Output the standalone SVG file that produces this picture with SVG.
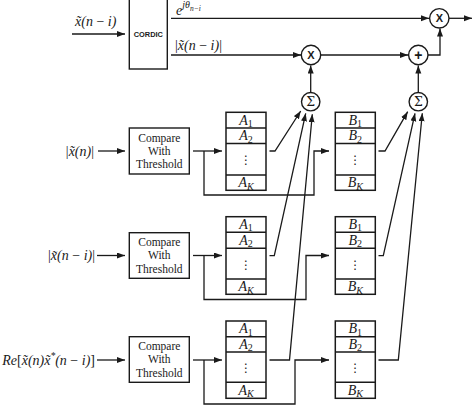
<svg xmlns="http://www.w3.org/2000/svg" width="474" height="405" viewBox="0 0 474 405">
<defs>
<marker id="ah" markerUnits="userSpaceOnUse" markerWidth="9" markerHeight="7" refX="8" refY="3" orient="auto">
<path d="M0,0 L8,3 L0,6 z" fill="#1a1a1a"/>
</marker>
<style>
.box{fill:#fff;stroke:#1a1a1a;stroke-width:1.4}
.reg{fill:#fff;stroke:#1a1a1a;stroke-width:1.5}
.arr{fill:none;stroke:#1a1a1a;stroke-width:1.3;marker-end:url(#ah)}
.m{font-family:"Liberation Serif",serif;font-style:italic;font-size:14px;fill:#1a1a1a}
.rl{font-family:"Liberation Serif",serif;font-style:italic;font-size:14px;fill:#1a1a1a;text-anchor:middle}
.r{font-family:"Liberation Serif",serif;font-size:11.5px;fill:#1a1a1a;text-anchor:middle}
.c{font-family:"Liberation Sans",Arial,sans-serif;font-weight:bold;font-size:7.4px;fill:#1a1a1a;text-anchor:middle}
.op{font-family:"Liberation Sans",Arial,sans-serif;font-weight:bold;fill:#1a1a1a;text-anchor:middle}
.sig{font-family:"DejaVu Serif",serif;font-size:12.5px;fill:#1a1a1a;text-anchor:middle}
.up{font-style:normal}
.sub{font-size:10px}
.subn{font-size:10px;font-style:normal}
.dots{font-family:"DejaVu Sans",sans-serif;font-size:12px;fill:#1a1a1a;text-anchor:middle}
</style>
</defs>
<rect width="474" height="405" fill="#fff"/>

<g id="connectors">
<path class="arr" d="M72,34 H125"/>
<path class="arr" d="M171,18.3 H429"/>
<path class="arr" d="M449,18.3 H472"/>
<path class="arr" d="M171,55 H301"/>
<path class="arr" d="M321,55 H408"/>
<path class="arr" d="M428,55 H440 V28.5"/>
<path class="arr" d="M310.7,92.5 V65.5"/>
<path class="arr" d="M418.3,92.5 V65.5"/>
<path class="arr" d="M98,151 H125"/>
<path class="arr" d="M193,151 H222"/>
<path class="arr" d="M204,151 V195 H314 V151 H329"/>
<path class="arr" d="M269.5,151 H275 L300.7,111"/>
<path class="arr" d="M378.5,151 H385 L407.7,111.7"/>
<path class="arr" d="M97,255.5 H125"/>
<path class="arr" d="M193,255.5 H222"/>
<path class="arr" d="M204,255.5 V299.5 H306 V255.5 H329"/>
<path class="arr" d="M269.5,255.7 H274.3 L305.7,113.3"/>
<path class="arr" d="M378.5,255.7 H383.3 L415,113.3"/>
<path class="arr" d="M97,360 H125"/>
<path class="arr" d="M193,360 H222"/>
<path class="arr" d="M204,360 V404 H295 V360 H329"/>
<path class="arr" d="M269.5,360 H289.5 L312.3,114.3"/>
<path class="arr" d="M378.5,360 H398.3 L422.3,113.3"/>
</g>

<g id="labels">
<text class="m" x="75" y="25.5">x&#771;(n <tspan class="up">&#8722;</tspan> i)</text>
<text class="m" x="176" y="14.5" font-size="13">e<tspan font-size="10" dy="-6.5">j&#952;</tspan><tspan font-size="7.5" dy="2.5">n&#8722;i</tspan></text>
<text class="m" x="175" y="49.5"><tspan class="up">|</tspan>x&#771;(n <tspan class="up">&#8722;</tspan> i)<tspan class="up">|</tspan></text>
<text class="m" x="94" y="155.5" text-anchor="end"><tspan class="up">|</tspan>x&#771;(n)<tspan class="up">|</tspan></text>
<text class="m" x="95" y="260" text-anchor="end"><tspan class="up">|</tspan>x&#771;(n <tspan class="up">&#8722;</tspan> i)<tspan class="up">|</tspan></text>
<text class="m" x="95" y="364.5" text-anchor="end">Re<tspan class="up">[</tspan>x&#771;(n)x&#771;<tspan font-size="9.5" dy="-5.5">*</tspan><tspan dy="5.5">(n </tspan><tspan class="up">&#8722;</tspan> i)<tspan class="up">]</tspan></text>
</g>

<g id="cordic">
<rect class="box" x="129.3" y="-1" width="38" height="70"/>
<text class="c" x="148.3" y="36.5">CORDIC</text>
</g>

<g id="mul-top">
<circle class="box" cx="439.3" cy="18.3" r="9.7"/>
<text class="op" x="439.3" y="22.3" font-size="11">X</text>
</g>
<g id="mul-mid">
<circle class="box" cx="311" cy="55" r="9.7"/>
<text class="op" x="311" y="59" font-size="11">X</text>
</g>
<g id="add">
<circle class="box" cx="418.3" cy="55" r="9.7"/>
<text class="op" x="418.3" y="59.6" font-size="14">+</text>
</g>
<g id="sum-a">
<circle class="box" cx="310.7" cy="101.7" r="9.2"/>
<text class="sig" x="310.7" y="106">&#931;</text>
</g>
<g id="sum-b">
<circle class="box" cx="418.3" cy="101.7" r="9.2"/>
<text class="sig" x="418.3" y="106">&#931;</text>
</g>

<g id="compare-1">
<rect class="box" x="129.3" y="128" width="60" height="46"/>
<text class="r" x="159.3" y="141.5">Compare</text>
<text class="r" x="159.3" y="154.8">With</text>
<text class="r" x="159.3" y="168">Threshold</text>
</g>
<g id="reg-a1">
<rect class="reg" x="226" y="112.3" width="40" height="78"/>
<path class="reg" d="M226,128 H266 M226,143.5 H266 M226,175 H266"/>
<text class="rl" x="246" y="124.5">A<tspan class="subn" dy="2.5">1</tspan></text>
<text class="rl" x="246" y="140">A<tspan class="subn" dy="2.5">2</tspan></text>
<text class="dots" x="246" y="164">&#8942;</text>
<text class="rl" x="246" y="187">A<tspan class="sub" dy="2.5">K</tspan></text>
</g>
<g id="reg-b1">
<rect class="reg" x="335.3" y="112.3" width="40" height="78"/>
<path class="reg" d="M335.3,128 H375.3 M335.3,143.5 H375.3 M335.3,175 H375.3"/>
<text class="rl" x="355.3" y="124.5">B<tspan class="subn" dy="2.5">1</tspan></text>
<text class="rl" x="355.3" y="140">B<tspan class="subn" dy="2.5">2</tspan></text>
<text class="dots" x="355.3" y="164">&#8942;</text>
<text class="rl" x="355.3" y="187">B<tspan class="sub" dy="2.5">K</tspan></text>
</g>

<g id="compare-2">
<rect class="box" x="129.3" y="232.7" width="60" height="45.6"/>
<text class="r" x="159.3" y="246">Compare</text>
<text class="r" x="159.3" y="259.3">With</text>
<text class="r" x="159.3" y="272.5">Threshold</text>
</g>
<g id="reg-a2">
<rect class="reg" x="226" y="216.7" width="40" height="77.6"/>
<path class="reg" d="M226,232.3 H266 M226,248.3 H266 M226,279 H266"/>
<text class="rl" x="246" y="228.8">A<tspan class="subn" dy="2.5">1</tspan></text>
<text class="rl" x="246" y="244.5">A<tspan class="subn" dy="2.5">2</tspan></text>
<text class="dots" x="246" y="268.5">&#8942;</text>
<text class="rl" x="246" y="291">A<tspan class="sub" dy="2.5">K</tspan></text>
</g>
<g id="reg-b2">
<rect class="reg" x="335.3" y="216.7" width="40" height="77.6"/>
<path class="reg" d="M335.3,232.3 H375.3 M335.3,248.3 H375.3 M335.3,279 H375.3"/>
<text class="rl" x="355.3" y="228.8">B<tspan class="subn" dy="2.5">1</tspan></text>
<text class="rl" x="355.3" y="244.5">B<tspan class="subn" dy="2.5">2</tspan></text>
<text class="dots" x="355.3" y="268.5">&#8942;</text>
<text class="rl" x="355.3" y="291">B<tspan class="sub" dy="2.5">K</tspan></text>
</g>

<g id="compare-3">
<rect class="box" x="129.3" y="336.7" width="60" height="45.6"/>
<text class="r" x="159.3" y="350">Compare</text>
<text class="r" x="159.3" y="363.3">With</text>
<text class="r" x="159.3" y="376.5">Threshold</text>
</g>
<g id="reg-a3">
<rect class="reg" x="226" y="321" width="40" height="77.3"/>
<path class="reg" d="M226,336.7 H266 M226,352 H266 M226,382.3 H266"/>
<text class="rl" x="246" y="333">A<tspan class="subn" dy="2.5">1</tspan></text>
<text class="rl" x="246" y="348.5">A<tspan class="subn" dy="2.5">2</tspan></text>
<text class="dots" x="246" y="372">&#8942;</text>
<text class="rl" x="246" y="394.8">A<tspan class="sub" dy="2.5">K</tspan></text>
</g>
<g id="reg-b3">
<rect class="reg" x="335.3" y="321" width="40" height="77.3"/>
<path class="reg" d="M335.3,336.7 H375.3 M335.3,352 H375.3 M335.3,382.3 H375.3"/>
<text class="rl" x="355.3" y="333">B<tspan class="subn" dy="2.5">1</tspan></text>
<text class="rl" x="355.3" y="348.5">B<tspan class="subn" dy="2.5">2</tspan></text>
<text class="dots" x="355.3" y="372">&#8942;</text>
<text class="rl" x="355.3" y="394.8">B<tspan class="sub" dy="2.5">K</tspan></text>
</g>
</svg>
